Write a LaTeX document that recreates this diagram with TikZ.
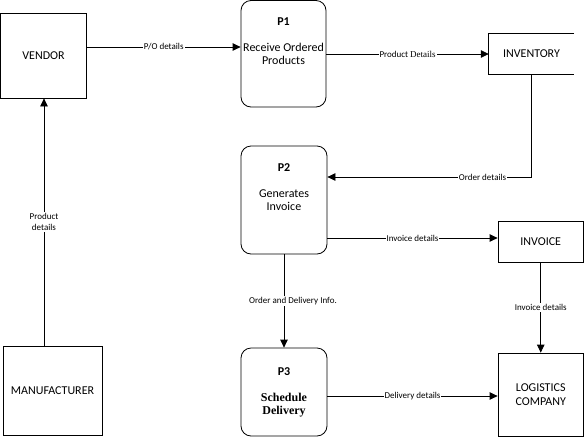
\documentclass[tikz,border=0pt]{standalone}
\usepackage{fontspec}
\setmainfont{Carlito}
\newfontfamily\serifx{Liberation Serif}
\usetikzlibrary{arrows.meta}
\begin{document}
\begin{tikzpicture}[x=1pt,y=-1pt,
  box/.style={draw, line width=0.8pt, font=\fontsize{12}{14}\selectfont, align=center, inner sep=0pt},
  proc/.style={draw, line width=0.8pt, rounded corners=10pt, inner sep=0pt},
  ptext/.style={font=\fontsize{12}{13}\selectfont, align=center, inner sep=0pt},
  arr/.style={line width=0.8pt, -{Triangle[length=8pt,width=7.5pt]}},
  plain/.style={line width=0.8pt},
  lbl/.style={fill=white, inner sep=1pt, font=\fontsize{9}{11}\selectfont, align=center}]
\useasboundingbox (0,0) rectangle (584,437);
\clip (0,0) rectangle (584,437);
\node[box, minimum width=86pt, minimum height=85pt] (vendor) at (43.5,55.5) {VENDOR};
\node[proc, minimum width=85pt, minimum height=106.5pt] (p1) at (283.5,53.75) {};
\node[ptext] (p1t) at (283.5,41.5) {\textbf{P1}\\[13pt]Receive Ordered\\Products};
\node[draw=none, font=\fontsize{12}{14}\selectfont, minimum width=85pt, minimum height=40pt, inner sep=0pt] (inv) at (531.5,54) {INVENTORY};
\draw[plain] (inv.north east) -- (inv.north west) -- (inv.south west) -- (inv.south east);
\node[proc, minimum width=86pt, minimum height=108pt] (p2) at (284,200) {};
\node[ptext] (p2t) at (284,187) {\textbf{P2}\\[13pt]Generates\\Invoice};
\node[box, minimum width=85.5pt, minimum height=41pt] (invoice) at (540.75,241.5) {INVOICE};
\node[proc, minimum width=86pt, minimum height=88pt] (p3) at (284,392) {};
\node[ptext] (p3t) at (284,392.5) {\textbf{P3}\\[13pt]{\serifx\fontsize{12}{13}\selectfont\bfseries Schedule}\\{\serifx\fontsize{12}{13}\selectfont\bfseries Delivery}};
\node[box, minimum width=85.5pt, minimum height=83pt] (log) at (540.75,394.5) {LOGISTICS\\COMPANY};
\node[box, minimum width=99pt, minimum height=89pt] (manu) at (52.5,390.5) {MANUFACTURER};

\draw[arr] (vendor.east |- 0,47) -- node[lbl] {P/O details} (p1.west |- 0,47);
\draw[arr] (p1.east |- 0,54) -- node[lbl] {Product {\serifx Details}} (inv.west);
\draw[arr] (inv.south) |- node[lbl, pos=0.62] {Order details} (p2.east |- 0,177);
\draw[arr] (p2.east |- 0,238) -- node[lbl] {Invoice details} (invoice.west |- 0,238);
\draw[arr] (invoice.south) -- node[lbl] {Invoice details} (log.north);
\draw[arr] (p2.south) -- (p3.north);
\node[lbl] (odi) at (293,301) {Order and Delivery Info.};
\draw[arr] (p3.east |- 0,396) -- node[lbl] {Delivery details} (log.west |- 0,396);
\draw[arr] (manu.north -| 44,0) -- node[lbl] {Product\\details} (vendor.south -| 44,0);
\end{tikzpicture}
\end{document}
